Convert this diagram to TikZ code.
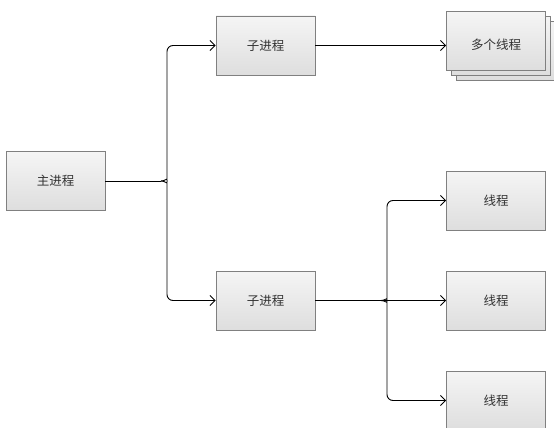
\documentclass[tikz,border=0pt]{standalone}
\usepackage{fontspec}
\setmainfont{Noto Sans CJK SC}
\usetikzlibrary{arrows.meta}
\begin{document}
\begin{tikzpicture}[x=1pt,y=-1pt,
  boxtext/.style={font=\fontsize{12.5}{14}\selectfont, text=black!80, inner sep=0pt},
  box/.style={boxtext, draw=black!50, line width=0.9pt, top color=black!4, bottom color=black!13,
    minimum width=99pt, minimum height=59pt},
  conn/.style={line width=0.9pt, black},
  arr/.style={conn, -{Straight Barb[length=5pt,width=10pt,line width=0.9pt]}}]
\useasboundingbox (0,0) rectangle (554,428);
\clip (0,0) rectangle (554,428);
\fill[white] (0,0) rectangle (554,428);
% nodes
\node[box] (main) at (55.5,181) {主进程};
\node[box] (sub1) at (265.5,45.5) {子进程};
\node[box] (sub2) at (265.5,300.5) {子进程};
\node[box] (multiC) at (506,51) {};
\node[box] (multiB) at (501,46) {};
\node[box] (multi) at (496,41) {};
\node[boxtext] (multilabel) at (496,45) {多个线程};
\node[box] (t1) at (496,200.5) {线程};
\node[box] (t2) at (496,300.5) {线程};
\node[box] (t3) at (496,400.5) {线程};
% brace coordinates
\coordinate (tipA) at (161,181);
\coordinate (tipB) at (381,300.5);
% main brace
\draw[conn] (main.east) -- (tipA);
\draw[arr, rounded corners=6pt] (tipA) .. controls (165,181) and (167,178) .. (167,174) -- (167,45.5) -- (sub1.west);
\draw[arr, rounded corners=6pt] (tipA) .. controls (165,181) and (167,184) .. (167,188) -- (167,300.5) -- (sub2.west);
% sub1 to multi
\draw[arr] (sub1.east) -- (sub1.east -| multi.west);
% sub2 brace
\draw[arr] (sub2.east) -- (t2.west);
\draw[arr, rounded corners=6pt] (tipB) .. controls (385,300.5) and (387,297.5) .. (387,293.5) -- (387,200.5) -- (t1.west);
\draw[arr, rounded corners=6pt] (tipB) .. controls (385,300.5) and (387,303.5) .. (387,307.5) -- (387,400.5) -- (t3.west);
\end{tikzpicture}
\end{document}
